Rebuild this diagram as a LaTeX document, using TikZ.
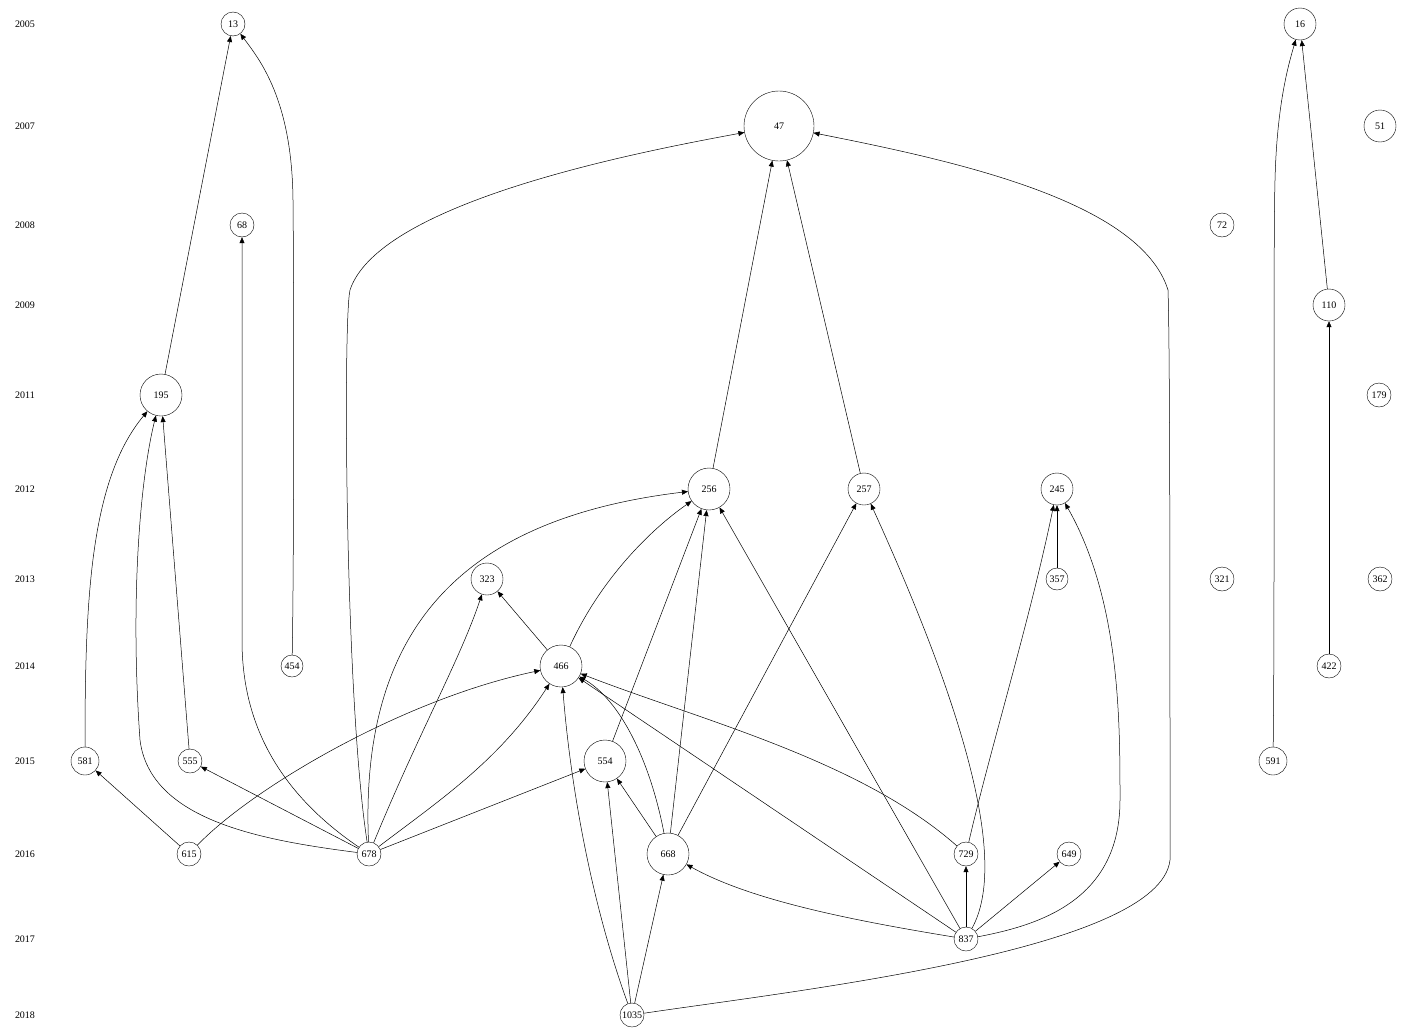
\documentclass[tikz,border=0pt]{standalone}
\usepackage{fontspec}
\setmainfont{Liberation Serif}
\usetikzlibrary{arrows.meta}
\begin{document}
\begin{tikzpicture}[x=1pt,y=-1pt,
 v/.style={circle,draw,inner sep=0pt,font=\fontsize{10}{11}\selectfont},
 yr/.style={font=\fontsize{10}{11}\selectfont},
 e/.style={-{Triangle[length=6pt,width=5pt]},line width=0.5pt}]
\useasboundingbox (0,0) rectangle (1406,1036);
\foreach \yy/\t in {24/2005,126/2007,225/2008,305/2009,395/2011,489/2012,579/2013,666/2014,761/2015,854/2016,939/2017,1015/2018}
  \node[yr] (y\t) at (25,\yy) {\t};
\foreach \n/\x/\y/\r in {13/233/24/12,16/1300/24/16,47/779/126/35,51/1380/126/16,68/242/225/12,72/1222/225/12,110/1329/305/16,195/161/395/21,179/1379/395/12,256/709/489/21,257/864/489/16,245/1057/489/16,323/487/579/16,357/1057/579/11,321/1222/579/12,362/1380/579/12,454/292/666/11,466/561/666/21,422/1329/666/12,581/85/761/14,555/190/761/12,554/605/761/21,591/1273/761/14,615/189/854/12,678/369/854/12,668/668/854/21,729/966/854/12,649/1069/854/12,837/966/939/12,1035/632/1015/12}
  \node[v,minimum size=2*\r pt] (n\n) at (\x,\y) {\n};
\draw[e] (n195) -- (n13);
\draw[e] (n454) .. controls (294,560) and (294,300) .. (293,200) .. controls (292,100) and (260,60) .. (n13);
\draw[e] (n591) .. controls (1275,600) and (1273,250) .. (1275,180) .. controls (1277,100) and (1290,60) .. (n16);
\draw[e] (n110) -- (n16);
\draw[e] (n422) -- (n110);
\draw[e] (n678) .. controls (345,700) and (343,320) .. (350,290) .. controls (380,200) and (650,150) .. (n47);
\draw[e] (n1035) .. controls (800,990) and (1160,950) .. (1170,860) .. controls (1170,600) and (1170,350) .. (1168,290) .. controls (1140,200) and (950,160) .. (n47);
\draw[e] (n256) -- (n47);
\draw[e] (n257) -- (n47);
\draw[e] (n581) .. controls (85,600) and (90,480) .. (n195);
\draw[e] (n678) .. controls (260,840) and (150,820) .. (140,740) .. controls (130,600) and (140,480) .. (n195);
\draw[e] (n555) -- (n195);
\draw[e] (n678) .. controls (260,780) and (242,700) .. (242,640) -- (n68);
\draw[e] (n357) -- (n245);
\draw[e] (n729) .. controls (990,750) and (1030,620) .. (n245);
\draw[e] (n837) .. controls (1040,925) and (1120,900) .. (1120,800) .. controls (1120,720) and (1120,600) .. (n245);
\draw[e] (n678) .. controls (360,640) and (450,520) .. (n256);
\draw[e] (n466) .. controls (600,580) and (650,530) .. (n256);
\draw[e] (n554) -- (n256);
\draw[e] (n668) -- (n256);
\draw[e] (n837) -- (n256);
\draw[e] (n668) -- (n257);
\draw[e] (n837) .. controls (1010,860) and (960,700) .. (n257);
\draw[e] (n678) .. controls (420,730) and (460,660) .. (n323);
\draw[e] (n466) -- (n323);
\draw[e] (n615) .. controls (250,790) and (400,700) .. (n466);
\draw[e] (n678) .. controls (440,800) and (500,760) .. (n466);
\draw[e] (n1035) .. controls (590,900) and (570,780) .. (n466);
\draw[e] (n668) .. controls (650,760) and (620,700) .. (n466);
\draw[e] (n729) .. controls (860,760) and (700,720) .. (n466);
\draw[e] (n837) -- (n466);
\draw[e] (n678) -- (n555);
\draw[e] (n615) -- (n581);
\draw[e] (n678) -- (n554);
\draw[e] (n668) -- (n554);
\draw[e] (n1035) -- (n554);
\draw[e] (n1035) -- (n668);
\draw[e] (n837) .. controls (850,920) and (750,900) .. (n668);
\draw[e] (n837) -- (n729);
\draw[e] (n837) -- (n649);
\end{tikzpicture}
\end{document}
